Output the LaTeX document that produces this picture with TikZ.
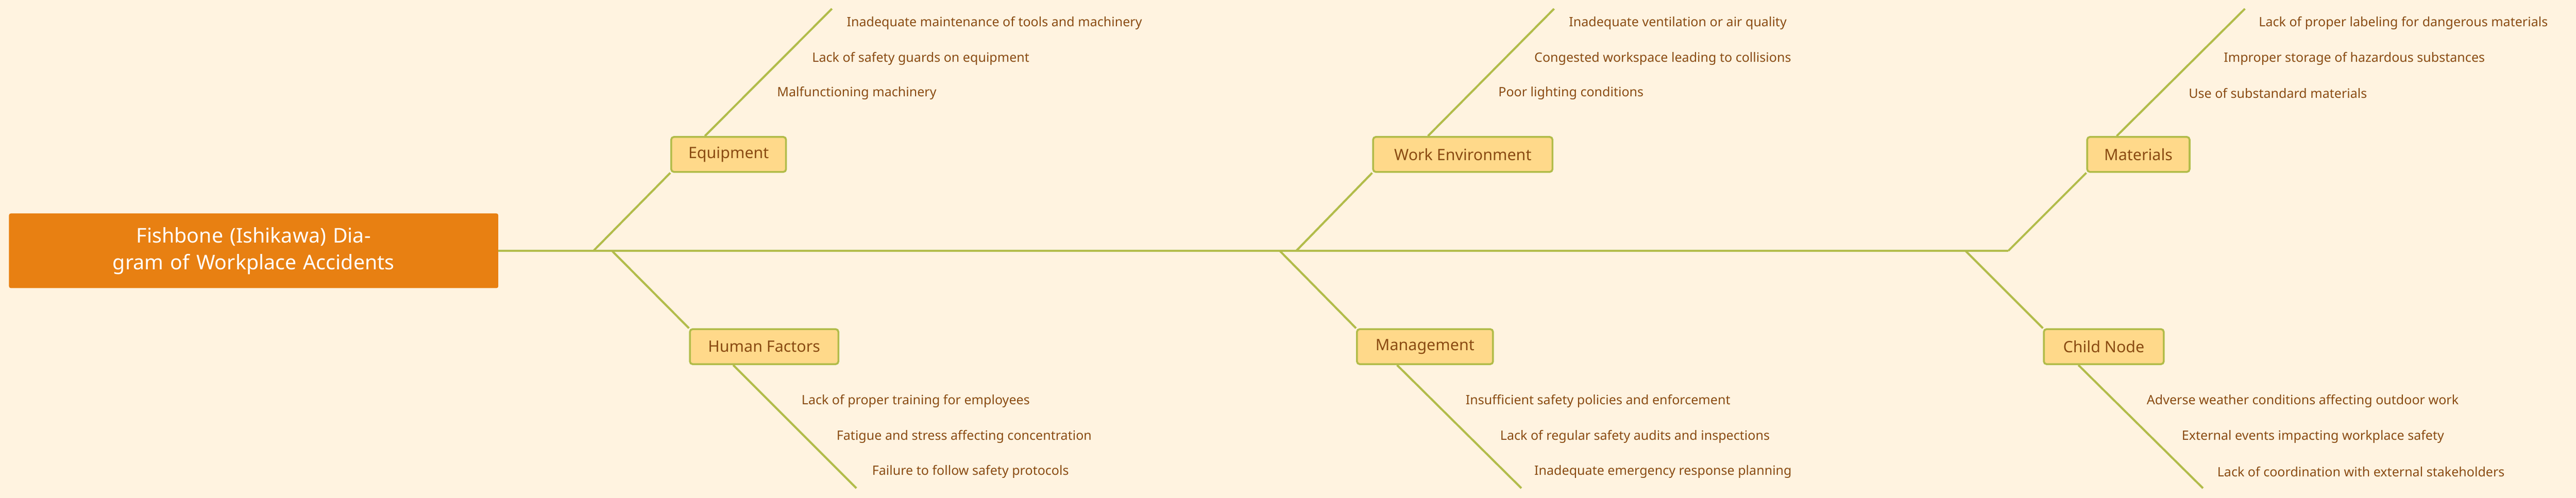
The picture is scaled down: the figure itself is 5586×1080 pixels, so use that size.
\documentclass[tikz,border=0pt]{standalone}
\usepackage{fontspec}
\setmainfont{Noto Sans}
\usepackage{xcolor}
\definecolor{bgcream}{HTML}{FFF3E0}
\definecolor{rootorange}{HTML}{E88012}
\definecolor{boxfill}{HTML}{FFD98A}
\definecolor{bonegreen}{HTML}{B2BC4A}
\definecolor{textbrown}{HTML}{8A4B12}
\tikzset{
	rootbox/.style={fill=rootorange, rounded corners=4pt, minimum width=1061pt, minimum height=162pt, text width=900pt, align=center, text=white, font=\fontsize{44}{58}\selectfont\bfseries},
	catbox/.style={draw=bonegreen, line width=4pt, fill=boxfill, rounded corners=6pt, minimum height=76pt, text=textbrown, font=\fontsize{34}{40}\selectfont},
	cause/.style={anchor=west, text=textbrown, inner sep=0pt, font=\fontsize{28}{34}\selectfont},
	bone/.style={draw=bonegreen, line width=4.5pt},
}
\begin{document}
\begin{tikzpicture}[x=1pt,y=-1pt]
	\fill[bgcream] (0,0) rectangle (5586,1080);
	\useasboundingbox (0,0) rectangle (5586,1080);
	
	%spine
	\node[rootbox] (root) at (550,544) {Fishbone (Ishikawa) Diagram of Workplace Accidents};
	\coordinate (tail) at (4355,544);
	\draw[bone] (root.east) -- (tail);
	
	%category boxes
	\node[catbox, minimum width=249pt] (equip) at (1580,335) {Equipment};
	\node[catbox, minimum width=322pt] (human) at (1657,752) {Human Factors};
	\node[catbox, minimum width=389pt] (workenv) at (3172,335) {Work Environment};
	\node[catbox, minimum width=295pt] (mgmt) at (3090,752) {Management};
	\node[catbox, minimum width=222pt] (mater) at (4637,335) {Materials};
	\node[catbox, minimum width=260pt] (child) at (4562,752) {Child Node};
	
	%bone ends
	\coordinate (s1) at (1287,544); \coordinate (e1) at (1804,19);
	\coordinate (s2) at (1327,544); \coordinate (e2) at (1857,1059);
	\coordinate (s3) at (2811,544); \coordinate (e3) at (3370,19);
	\coordinate (s4) at (2775,544); \coordinate (e4) at (3299,1059);
	\coordinate (e5) at (4868,19);
	\coordinate (s6) at (4262,544); \coordinate (e6) at (4777,1059);
	
	%bones
	\draw[bone] (s1) -- (equip.south west); \draw[bone] ([xshift=75pt]equip.north west) -- (e1);
	\draw[bone] (s2) -- (human.north west); \draw[bone] ([xshift=96pt]human.south west) -- (e2);
	\draw[bone] (s3) -- (workenv.south west); \draw[bone] ([xshift=121pt]workenv.north west) -- (e3);
	\draw[bone] (s4) -- (mgmt.north west); \draw[bone] ([xshift=89pt]mgmt.south west) -- (e4);
	\draw[bone] (tail) -- (mater.south west); \draw[bone] ([xshift=66pt]mater.north west) -- (e5);
	\draw[bone] (s6) -- (child.north west); \draw[bone] ([xshift=77pt]child.south west) -- (e6);
	
	%causes
	\node[cause] (c11) at (1836,50) {Inadequate maintenance of tools and machinery};
	\node[cause] (c12) at (1761,127) {Lack of safety guards on equipment};
	\node[cause] (c13) at (1685,202) {Malfunctioning machinery};
	\node[cause] (c21) at (1738,870) {Lack of proper training for employees};
	\node[cause] (c22) at (1814,947) {Fatigue and stress affecting concentration};
	\node[cause] (c23) at (1891,1023) {Failure to follow safety protocols};
	\node[cause] (c31) at (3402,50) {Inadequate ventilation or air quality};
	\node[cause] (c32) at (3327,127) {Congested workspace leading to collisions};
	\node[cause] (c33) at (3249,202) {Poor lighting conditions};
	\node[cause] (c41) at (3178,870) {Insufficient safety policies and enforcement};
	\node[cause] (c42) at (3253,947) {Lack of regular safety audits and inspections};
	\node[cause] (c43) at (3327,1023) {Inadequate emergency response planning};
	\node[cause] (c51) at (4898,50) {Lack of proper labeling for dangerous materials};
	\node[cause] (c52) at (4822,127) {Improper storage of hazardous substances};
	\node[cause] (c53) at (4746,202) {Use of substandard materials};
	\node[cause] (c61) at (4655,870) {Adverse weather conditions affecting outdoor work};
	\node[cause] (c62) at (4731,947) {External events impacting workplace safety};
	\node[cause] (c63) at (4808,1023) {Lack of coordination with external stakeholders};
\end{tikzpicture}
\end{document}
